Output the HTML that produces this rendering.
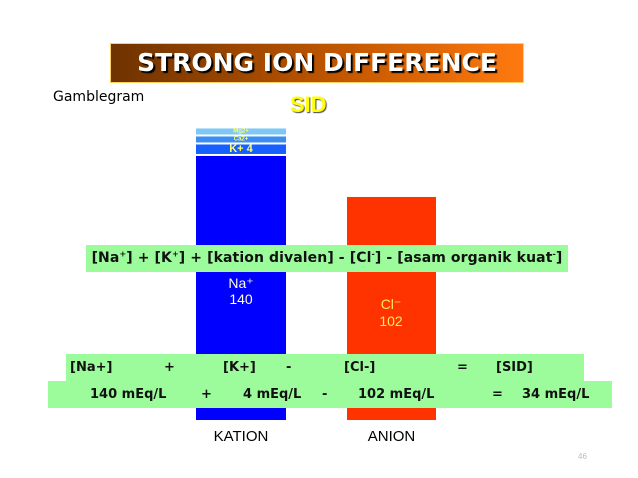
<!DOCTYPE html>
<html><head><meta charset="utf-8"><style>
body{margin:0;width:638px;height:478px;background:#fff;position:relative;overflow:hidden;font-family:"Liberation Sans",sans-serif}
.abs{position:absolute}
.g{background:#9cfc9c;font-family:"DejaVu Sans",sans-serif;font-weight:bold;font-size:13px;color:#111;white-space:nowrap}
sup{line-height:0}
</style></head><body>
<div class="abs" style="left:110px;top:43px;width:412px;height:38px;background:linear-gradient(90deg,#6e3200,#c85a00 60%,#ff7a10);border:1px solid #ffd060;text-align:center;line-height:38px;font-weight:bold;font-size:25px;color:#fff;text-shadow:2px 2px 1px #000;font-family:'DejaVu Sans',sans-serif">STRONG ION DIFFERENCE</div>
<div class="abs" style="left:53px;top:89px;font-size:14px;font-family:'DejaVu Sans',sans-serif">Gamblegram</div>
<div class="abs" style="left:290px;top:92px;font-size:22px;font-weight:bold;color:#ffff00;text-shadow:1px 1px 1px #444">SID</div>
<svg class="abs" style="left:0;top:0" width="638" height="478" id="chart"></svg>
<div class="abs g" style="left:86px;top:245px;width:482px;height:27px;line-height:27px;text-align:center;font-size:14px;letter-spacing:0.1px">[Na<sup style="font-size:8px">+</sup>] + [K<sup style="font-size:8px">+</sup>] + [kation divalen] - [Cl<sup style="font-size:8px">-</sup>] - [asam organik kuat<sup style="font-size:8px">-</sup>]</div>
<div class="abs g" style="left:66px;top:354px;width:518px;height:27px;line-height:27px">
<span class="abs" style="left:4px">[Na+]</span><span class="abs" style="left:98px">+</span><span class="abs" style="left:157px">[K+]</span><span class="abs" style="left:220px">-</span><span class="abs" style="left:278px">[Cl-]</span><span class="abs" style="left:391px">=</span><span class="abs" style="left:430px">[SID]</span></div>
<div class="abs g" style="left:48px;top:381px;width:564px;height:27px;line-height:27px">
<span class="abs" style="left:42px">140 mEq/L</span><span class="abs" style="left:153px">+</span><span class="abs" style="left:195px">4 mEq/L</span><span class="abs" style="left:274px">-</span><span class="abs" style="left:310px">102 mEq/L</span><span class="abs" style="left:444px">=</span><span class="abs" style="left:474px">34 mEq/L</span></div>
<div class="abs" style="left:196px;top:428px;width:90px;text-align:center;font-size:15px">KATION</div>
<div class="abs" style="left:347px;top:428px;width:89px;text-align:center;font-size:15px">ANION</div>
<div class="abs" style="left:578px;top:452px;font-size:8px;color:#bbb">46</div>
<script>
const cationNames=["Na+","K+","Ca2+","Mg2+"];
const cationValues=[140,4,2.5,1.5];
const anionNames=["Cl-"];
const anionValues=[102];
const baseY=420,k=1.079,v0=-104.7;
function h(v,i){return i===0?(v-v0)*k:Math.max(6,v*k*2.2);}
const svg=document.getElementById('chart');
const NS='http://www.w3.org/2000/svg';
function stack(x,w,vals,names,colors,prefix){
 let y=baseY;
 vals.forEach((v,i)=>{
  const hh=h(v,i);y-=hh;
  const r=document.createElementNS(NS,'rect');
  r.setAttribute('x',x);r.setAttribute('y',y);r.setAttribute('width',w);r.setAttribute('height',hh);r.setAttribute('fill',colors[i]);
  
  
  svg.appendChild(r);
  if(i>0){
   const t=document.createElementNS(NS,'text');
   t.setAttribute('x',x+w/2);t.setAttribute('y',y+hh-2);t.setAttribute('text-anchor','middle');
   t.setAttribute('font-size',i===1?11:6);t.setAttribute('font-weight','bold');t.setAttribute('fill','#ffff66');
   t.setAttribute('font-family','Liberation Sans, sans-serif');
   t.textContent=i===1?names[i]+' '+v:names[i];
   
   
   svg.appendChild(t);
  }
  y-=2;
 });
}
stack(196,90,cationValues,cationNames,["#0000ff","#1560ff","#3d8ef0","#7ec8f5"],'cation-bar');
stack(347,89,anionValues,anionNames,["#ff3300"],'anion-bar');
function lbl(x,y,txt,col,name){
 const t=document.createElementNS(NS,'text');
 t.setAttribute('x',x);t.setAttribute('y',y);t.setAttribute('text-anchor','middle');t.setAttribute('font-size',14);
 t.setAttribute('fill',col);t.setAttribute('font-family','Liberation Sans, sans-serif');t.textContent=txt;
 
 
 svg.appendChild(t);
}
lbl(241,288,"Na⁺","#ffffdd",'na-label');lbl(241,304,String(cationValues[0]),"#ffffdd",'na-value');
lbl(391,309,"Cl⁻","#ffee55",'cl-label');lbl(391,326,String(anionValues[0]),"#ffee55",'cl-value');
</script>
</body></html>
